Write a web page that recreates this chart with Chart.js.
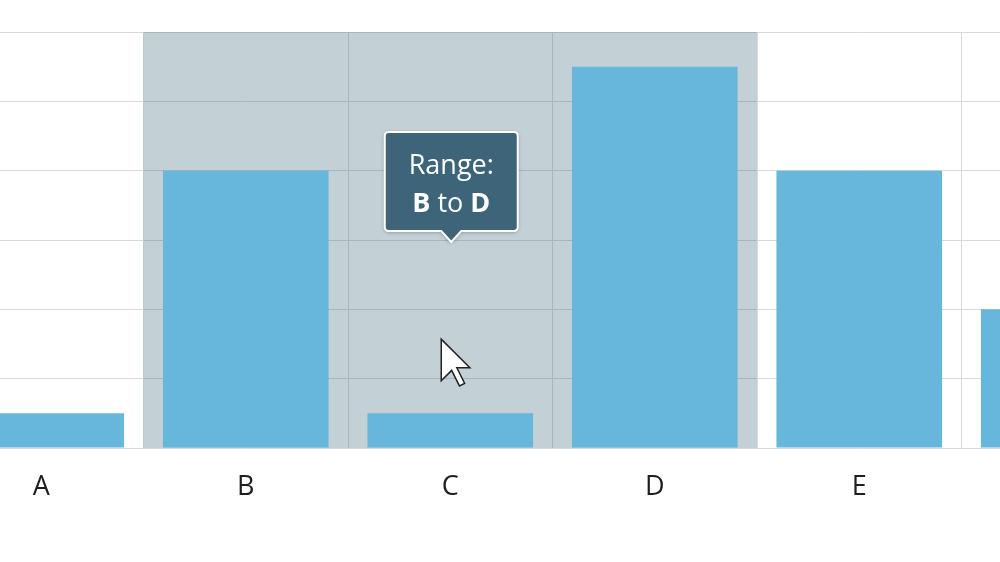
<!DOCTYPE html>
<html>
<head>
<meta charset="utf-8">
<script src="https://cdn.jsdelivr.net/npm/chart.js@4"></script>
<style>
  html, body { margin: 0; padding: 0; background: #fff; overflow: hidden; width: 1000px; height: 562px; }
  #wrap { position: absolute; left: -61px; top: 0; width: 1227px; height: 562px; }
</style>
</head>
<body>
<div id="wrap"><canvas id="rangeChart"></canvas></div>
<script>
// chart data
const categories = ['A', 'B', 'C', 'D', 'E', 'F'];
const values = [0.5, 4, 0.5, 5.5, 4, 2];
const yMin = 0;
const yMax = 6;
const rangeFrom = 'B';
const rangeTo = 'D';

const FONT = "'Segoe UI', 'Open Sans', 'Noto Sans', sans-serif";
Chart.defaults.font.family = FONT;

// shaded band for the selected range, under the bars
const rangeBand = {
    id: 'rangeBand',
    beforeDatasetsDraw(chart) {
        const x = chart.scales.x;
        const area = chart.chartArea;
        const half = x.width / categories.length / 2;
        const left = x.getPixelForValue(categories.indexOf(rangeFrom)) - half;
        const right = x.getPixelForValue(categories.indexOf(rangeTo)) + half;
        const ctx = chart.ctx;
        ctx.save();
        ctx.fillStyle = 'rgba(55, 98, 118, 0.3)';
        ctx.fillRect(left, area.top, right - left, area.bottom - area.top);
        ctx.restore();
    }
};

// tooltip box + mouse pointer drawn over the chart
const rangeTip = {
    id: 'rangeTip',
    afterDraw(chart) {
        const x = chart.scales.x;
        const y = chart.scales.y;
        const ctx = chart.ctx;
        const mid = Math.round((categories.indexOf(rangeFrom) + categories.indexOf(rangeTo)) / 2);
        const cx = x.getPixelForValue(mid) + 1;
        const tipY = y.getPixelForValue(3) + 2;
        const w = 133, h = 99, caret = 11, r = 4;
        const left = cx - w / 2, top = tipY - caret - h, bottom = tipY - caret;

        ctx.save();
        ctx.beginPath();
        ctx.moveTo(left + r, top);
        ctx.lineTo(left + w - r, top);
        ctx.quadraticCurveTo(left + w, top, left + w, top + r);
        ctx.lineTo(left + w, bottom - r);
        ctx.quadraticCurveTo(left + w, bottom, left + w - r, bottom);
        ctx.lineTo(cx + 10, bottom);
        ctx.lineTo(cx, tipY);
        ctx.lineTo(cx - 10, bottom);
        ctx.lineTo(left + r, bottom);
        ctx.quadraticCurveTo(left, bottom, left, bottom - r);
        ctx.lineTo(left, top + r);
        ctx.quadraticCurveTo(left, top, left + r, top);
        ctx.closePath();
        ctx.shadowColor = 'rgba(0,0,0,0.35)';
        ctx.shadowBlur = 4;
        ctx.shadowOffsetY = 1;
        ctx.fillStyle = '#3d6479';
        ctx.fill();
        ctx.shadowColor = 'transparent';
        ctx.strokeStyle = '#ffffff';
        ctx.lineWidth = 2;
        ctx.stroke();

        ctx.fillStyle = '#ffffff';
        ctx.textBaseline = 'middle';
        ctx.textAlign = 'left';
        ctx.font = '27px ' + FONT;
        const l1 = 'Range:';
        ctx.fillText(l1, cx - ctx.measureText(l1).width / 2, top + 34);

        const parts = [[rangeFrom, 'bold'], [' to ', 'normal'], [rangeTo, 'bold']];
        let total = 0;
        parts.forEach(p => { ctx.font = p[1] + ' 27px ' + FONT; total += ctx.measureText(p[0]).width; });
        let px = cx - total / 2;
        parts.forEach(p => {
            ctx.font = p[1] + ' 27px ' + FONT;
            ctx.fillText(p[0], px, top + 72);
            px += ctx.measureText(p[0]).width;
        });

        // pointer
        const mx = x.getPixelForValue(mid) - 9;
        const my = y.getPixelForValue(1.57);
        const s = 2.6;
        const pts = [[0, 0], [0, 16], [4, 12], [7, 18], [9, 17], [6, 11], [11, 11]];
        ctx.beginPath();
        pts.forEach((p, i) => {
            const px2 = mx + p[0] * s, py2 = my + p[1] * s;
            if (i === 0) ctx.moveTo(px2, py2); else ctx.lineTo(px2, py2);
        });
        ctx.closePath();
        ctx.fillStyle = '#ffffff';
        ctx.fill();
        ctx.strokeStyle = '#222222';
        ctx.lineWidth = 1.5;
        ctx.lineJoin = 'miter';
        ctx.stroke();
        ctx.restore();
    }
};

function drawRangeChart() {
    const ctx = document.getElementById('rangeChart').getContext('2d');

    window.myChart = new Chart(ctx, {
        type: 'bar',
        data: {
            labels: categories,
            datasets: [{
                label: 'Values',
                data: values,
                backgroundColor: '#67b6dc',
                borderWidth: 0,
                barPercentage: 0.81,
                categoryPercentage: 1
            }]
        },
        options: {
            responsive: true,
            maintainAspectRatio: false,
            animation: false,
            layout: { padding: { top: 32, left: 0, right: 0, bottom: 0 } },
            scales: {
                x: {
                    offset: true,
                    grid: { color: '#d8d8d8', lineWidth: 1, offset: true, drawTicks: false },
                    border: { display: false },
                    ticks: { color: '#1e1e1e', padding: 23, font: { size: 27 } },
                    afterFit: scale => { scale.height = 114; }
                },
                y: {
                    min: yMin,
                    max: yMax,
                    ticks: { display: false, stepSize: 1 },
                    grid: { color: '#d8d8d8', lineWidth: 1, drawTicks: false },
                    border: { display: false },
                    afterFit: scale => { scale.width = 0; }
                }
            },
            plugins: {
                legend: { display: false },
                tooltip: { enabled: false }
            }
        },
        plugins: [rangeBand, rangeTip]
    });
}

drawRangeChart();
</script>
</body>
</html>
